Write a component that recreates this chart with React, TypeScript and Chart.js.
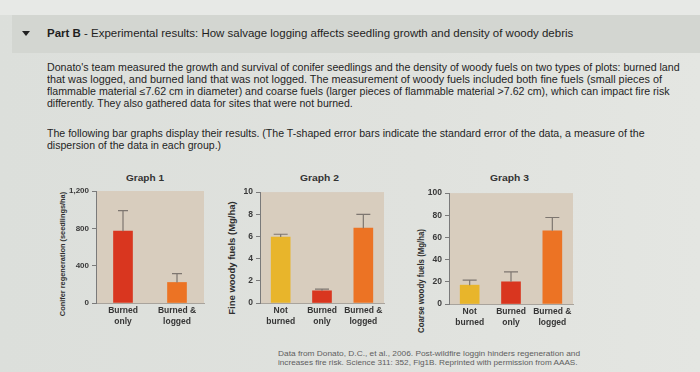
import React, { useEffect, useLayoutEffect, useRef, useState } from "react";
import { Chart, registerables } from "chart.js";

Chart.register(...registerables);

// ---------- data ----------
const g1Categories = [["Burned", "only"], ["Burned &", "logged"]];
const g1Values = [770, 220];
const g1Errors = [220, 95];
const g1Max = 1200;
const g1Step = 400;

const g2Categories = [["Not", "burned"], ["Burned", "only"], ["Burned &", "logged"]];
const g2Values = [5.95, 1.1, 6.75];
const g2Errors = [0.25, 0.15, 1.25];
const g2Max = 10;
const g2Step = 2;

const g3Categories = [["Not", "burned"], ["Burned", "only"], ["Burned &", "logged"]];
const g3Values = [17, 20, 66];
const g3Errors = [4.5, 9, 12];
const g3Max = 100;
const g3Step = 20;

const RED = "#d9361f";
const ORANGE = "#ec7324";
const YELLOW = "#e8b52b";
const g1Colors = [RED, ORANGE];
const g2Colors = [YELLOW, RED, ORANGE];
const g3Colors = [YELLOW, RED, ORANGE];

const FONT = '"Liberation Sans", Arial, Helvetica, sans-serif';

// ---------- plugins ----------
const plotBgPlugin = {
  id: "plotBg",
  beforeDraw(chart: any, _args: any, opts: any) {
    const { ctx, chartArea } = chart;
    ctx.save();
    ctx.fillStyle = opts.color || "#d8ccbc";
    ctx.fillRect(chartArea.left, chartArea.top, chartArea.right - chartArea.left, chartArea.bottom - chartArea.top);
    ctx.restore();
  },
};

const errorBarPlugin = {
  id: "errorBars",
  afterDatasetsDraw(chart: any, _args: any, opts: any) {
    const { ctx } = chart;
    const y = chart.scales.y;
    const meta = chart.getDatasetMeta(0);
    const vals = chart.data.datasets[0].data as number[];
    const errs: number[] = opts.errors || [];
    const half = opts.capHalf || 6;
    ctx.save();
    ctx.strokeStyle = opts.color || "#7a7470";
    ctx.lineWidth = 1.2;
    meta.data.forEach((bar: any, i: number) => {
      const v = vals[i];
      const e = errs[i] || 0;
      const yTop = y.getPixelForValue(v + e);
      const yBase = y.getPixelForValue(v);
      ctx.beginPath();
      ctx.moveTo(bar.x, yBase);
      ctx.lineTo(bar.x, yTop);
      ctx.moveTo(bar.x - half, yTop);
      ctx.lineTo(bar.x + half, yTop);
      ctx.stroke();
    });
    ctx.restore();
  },
};

// ---------- chart ----------
type BarProps = {
  left: number;
  top: number;
  width: number;
  height: number;
  yAxisWidth: number;
  xAxisHeight: number;
  labels: string[][];
  values: number[];
  errors: number[];
  colors: string[];
  max: number;
  step: number;
  tickSize: number;
  labelSize: number;
  capHalf: number;
};

function BarChart(p: BarProps) {
  const ref = useRef<HTMLCanvasElement>(null);
  useEffect(() => {
    if (!ref.current) return;
    const chart = new Chart(ref.current, {
      type: "bar",
      data: {
        labels: p.labels as any,
        datasets: [
          {
            data: p.values,
            backgroundColor: p.colors,
            borderWidth: 0,
            barThickness: 19,
          },
        ],
      },
      options: {
        animation: false,
        responsive: false,
        maintainAspectRatio: false,
        devicePixelRatio: 1,
        layout: { padding: { top: 8, right: 6, left: 0, bottom: 0 } },
        plugins: {
          legend: { display: false },
          tooltip: { enabled: false },
          title: { display: false },
          plotBg: { color: "#d8cdbe" },
          errorBars: { errors: p.errors, capHalf: p.capHalf, color: "#7d7670" },
        } as any,
        scales: {
          x: {
            grid: { display: false, drawTicks: false, tickLength: 0 },
            border: { display: true, color: "#a8a39c", width: 1 },
            ticks: {
              color: "#353535",
              font: { family: FONT, size: p.labelSize, weight: "bold", lineHeight: 1.2 },
              padding: 3,
              maxRotation: 0,
              autoSkip: false,
            },
            afterFit: (s: any) => {
              s.height = p.xAxisHeight;
            },
          },
          y: {
            min: 0,
            max: p.max,
            ticks: {
              stepSize: p.step,
              color: "#3a3a3a",
              font: { family: FONT, size: p.tickSize, weight: "bold" },
              padding: 3,
            },
            grid: {
              display: true,
              drawOnChartArea: false,
              drawTicks: true,
              tickLength: 4,
              color: "#7a7a7a",
            },
            border: { display: true, color: "#7a7a7a", width: 1 },
            afterFit: (s: any) => {
              s.width = p.yAxisWidth;
            },
          },
        },
      },
      plugins: [plotBgPlugin, errorBarPlugin],
    });
    return () => chart.destroy();
  }, []);
  return (
    <canvas
      ref={ref}
      width={p.width}
      height={p.height}
      style={{ position: "absolute", left: p.left, top: p.top, width: p.width, height: p.height }}
    />
  );
}

// ---------- text fitted to a measured width ----------
type FitProps = {
  x: number;
  y: number;
  target: number;
  size: number;
  weight?: string | number;
  color?: string;
  rotate?: boolean;
  children: React.ReactNode;
};

function Fit({ x, y, target, size, weight = "normal", color = "#1f1f1f", rotate = false, children }: FitProps) {
  const ref = useRef<HTMLSpanElement>(null);
  const [s, setS] = useState(1);
  useLayoutEffect(() => {
    if (ref.current) {
      const w = ref.current.offsetWidth;
      if (w > 0) setS(target / w);
    }
  }, [target]);
  const base: React.CSSProperties = {
    position: "absolute",
    whiteSpace: "nowrap",
    fontSize: size,
    fontWeight: weight as any,
    color,
    lineHeight: `${Math.round(size * 1.2)}px`,
    fontFamily: FONT,
  };
  if (rotate) {
    return (
      <div style={{ position: "absolute", left: x, top: y, width: 0, height: 0 }}>
        <span
          ref={ref}
          style={{
            ...base,
            left: 0,
            top: 0,
            transformOrigin: "center center",
            transform: `translate(-50%, -50%) rotate(-90deg) scaleX(${s})`,
          }}
        >
          {children}
        </span>
      </div>
    );
  }
  return (
    <span
      ref={ref}
      style={{
        ...base,
        left: x,
        top: y - Math.round(size * 1.2) / 2,
        transformOrigin: "left center",
        transform: `scaleX(${s})`,
      }}
    >
      {children}
    </span>
  );
}

export default function App() {
  return (
    <div
      style={{
        position: "fixed",
        left: 0,
        top: 0,
        width: 700,
        height: 372,
        overflow: "hidden",
        background: "linear-gradient(90deg, #dcdfdb 0%, #e0e2de 60%, #e4e6e2 100%)",
        fontFamily: FONT,
      }}
    >
      <div style={{ position: "absolute", left: 0, top: 0, width: 700, height: 15, background: "#e7e9e6" }} />
      <div style={{ position: "absolute", left: 12, top: 15, width: 688, height: 38, background: "#d3d6d1" }} />
      <div
        style={{
          position: "absolute",
          left: 22,
          top: 31,
          width: 0,
          height: 0,
          borderLeft: "4px solid transparent",
          borderRight: "4px solid transparent",
          borderTop: "5px solid #222",
        }}
      />
      <Fit x={47} y={33} target={526} size={11}>
        <b>Part B</b> - Experimental results: How salvage logging affects seedling growth and density of woody debris
      </Fit>

      <Fit x={47} y={68} target={633} size={10}>
        Donato's team measured the growth and survival of conifer seedlings and the density of woody fuels on two types of plots: burned land
      </Fit>
      <Fit x={47} y={80} target={615} size={10}>
        that was logged, and burned land that was not logged. The measurement of woody fuels included both fine fuels (small pieces of
      </Fit>
      <Fit x={47} y={92} target={623} size={10}>
        flammable material ≤7.62 cm in diameter) and coarse fuels (larger pieces of flammable material &gt;7.62 cm), which can impact fire risk
      </Fit>
      <Fit x={47} y={104} target={306} size={10}>
        differently. They also gathered data for sites that were not burned.
      </Fit>

      <Fit x={47} y={134} target={598} size={10}>
        The following bar graphs display their results. (The T-shaped error bars indicate the standard error of the data, a measure of the
      </Fit>
      <Fit x={47} y={146} target={174} size={10}>
        dispersion of the data in each group.)
      </Fit>

      <Fit x={126} y={178} target={38} size={9} weight="bold" color="#333">Graph 1</Fit>
      <Fit x={300} y={178} target={39} size={9} weight="bold" color="#333">Graph 2</Fit>
      <Fit x={490} y={178} target={39} size={9} weight="bold" color="#333">Graph 3</Fit>

      <Fit x={62} y={254} target={124} size={7.5} weight="bold" color="#2f2f2f" rotate>
        Conifer regeneration (seedlings/ha)
      </Fit>
      <Fit x={232} y={258} target={114} size={8.5} weight="bold" color="#2f2f2f" rotate>
        Fine woody fuels (Mg/ha)
      </Fit>
      <Fit x={421} y={281} target={104} size={8.5} weight="bold" color="#2f2f2f" rotate>
        Coarse woody fuels (Mg/ha)
      </Fit>

      <BarChart
        left={52}
        top={183}
        width={158}
        height={147}
        yAxisWidth={44}
        xAxisHeight={27}
        labels={g1Categories}
        values={g1Values}
        errors={g1Errors}
        colors={g1Colors}
        max={g1Max}
        step={g1Step}
        tickSize={8}
        labelSize={8.5}
        capHalf={5}
      />
      <BarChart
        left={220}
        top={184}
        width={170}
        height={146}
        yAxisWidth={40}
        xAxisHeight={27}
        labels={g2Categories}
        values={g2Values}
        errors={g2Errors}
        colors={g2Colors}
        max={g2Max}
        step={g2Step}
        tickSize={8.5}
        labelSize={8.5}
        capHalf={7}
      />
      <BarChart
        left={409}
        top={185}
        width={170}
        height={146}
        yAxisWidth={40}
        xAxisHeight={27}
        labels={g3Categories}
        values={g3Values}
        errors={g3Errors}
        colors={g3Colors}
        max={g3Max}
        step={g3Step}
        tickSize={8.5}
        labelSize={8.5}
        capHalf={7}
      />

      <Fit x={278} y={354} target={302} size={7} color="#5e5e5e">
        Data from Donato, D.C., et al., 2006. Post-wildfire loggin hinders regeneration and
      </Fit>
      <Fit x={278} y={363} target={300} size={7} color="#5e5e5e">
        increases fire risk. Science 311: 352, Fig1B. Reprinted with permission from AAAS.
      </Fit>
    </div>
  );
}
